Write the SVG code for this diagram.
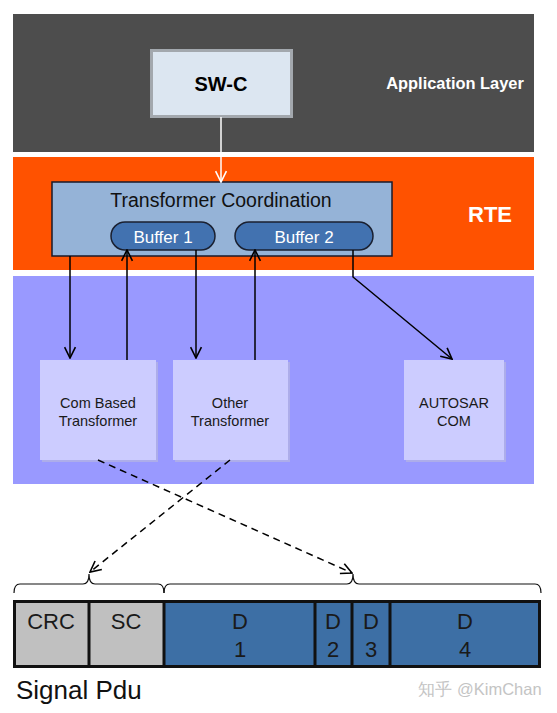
<svg xmlns="http://www.w3.org/2000/svg" width="557" height="713" viewBox="0 0 557 713">
<defs>
<marker id="ah" viewBox="0 0 12 12" refX="11" refY="6" markerWidth="13" markerHeight="13" markerUnits="userSpaceOnUse" orient="auto">
<path d="M1,1 L11,6 L1,11" fill="none" stroke="#000" stroke-width="1.5"/>
</marker>
<marker id="ahw" viewBox="0 0 12 12" refX="11" refY="6" markerWidth="13" markerHeight="13" markerUnits="userSpaceOnUse" orient="auto">
<path d="M1,1 L11,6 L1,11" fill="none" stroke="#fff" stroke-width="1.5"/>
</marker>
</defs>
<style>
text{font-family:"Liberation Sans",Arial,sans-serif;}
.tb{fill:#ccccff;}
.sh{fill:#adadea;}
.tt{font-size:14.5px;fill:#1a1a1a;text-anchor:middle;}
.buf{fill:#4272b0;stroke:#1a2030;stroke-width:1.5;}
.bt{font-size:17px;fill:#fff;text-anchor:middle;}
.conn{stroke:#000;stroke-width:1.5;fill:none;}
.dash{stroke:#000;stroke-width:1.5;fill:none;stroke-dasharray:7 5;}
.g{fill:#c0c0c0;}
.b{fill:#3d6fa5;}
.ct{font-size:22px;fill:#1a1a1a;text-anchor:middle;}
</style>
<rect width="557" height="713" fill="#fff"/>
<g id="layers">
<rect x="13" y="14" width="521" height="138" fill="#4d4d4d"/>
<rect x="13" y="157" width="521" height="113" fill="#ff5200"/>
<rect x="13" y="276" width="521" height="208" fill="#9999ff"/>
<text x="455" y="89" font-size="16.4px" font-weight="bold" fill="#fff" text-anchor="middle">Application Layer</text>
<text x="490" y="222" font-size="22px" font-weight="bold" fill="#fff" text-anchor="middle">RTE</text>
</g>
<g id="swc">
<rect x="151.5" y="50.5" width="140" height="66" fill="#dce6f1" stroke="#a3a8ae" stroke-width="3"/>
<text x="221" y="91" font-size="20px" font-weight="bold" fill="#000" text-anchor="middle">SW-C</text>
</g>
<g id="tc">
<rect x="52" y="182" width="340" height="74" fill="#95b3d7" stroke="#1a1a2a" stroke-width="1.5"/>
<text x="221" y="207" font-size="19.5px" fill="#111" text-anchor="middle">Transformer Coordination</text>
</g>
<g id="buffer1">
<rect class="buf" x="111" y="222" width="104" height="28" rx="14"/>
<text class="bt" x="163" y="243">Buffer 1</text>
</g>
<g id="buffer2">
<rect class="buf" x="235" y="222" width="138" height="28" rx="14"/>
<text class="bt" x="304" y="243">Buffer 2</text>
</g>
<g id="combased">
<rect class="sh" x="42" y="362" width="116" height="100"/>
<rect class="tb" x="40" y="360" width="116" height="100"/>
<text class="tt" x="98" y="408">Com Based</text>
<text class="tt" x="98" y="426">Transformer</text>
</g>
<g id="other">
<rect class="sh" x="175" y="362" width="115" height="100"/>
<rect class="tb" x="173" y="360" width="115" height="100"/>
<text class="tt" x="230" y="408">Other</text>
<text class="tt" x="230" y="426">Transformer</text>
</g>
<g id="autosarcom">
<rect class="sh" x="406" y="362" width="100" height="100"/>
<rect class="tb" x="404" y="360" width="100" height="100"/>
<text class="tt" x="454" y="408">AUTOSAR</text>
<text class="tt" x="454" y="426">COM</text>
</g>
<g id="pdu">
<rect class="g" x="13" y="600" width="76" height="68"/>
<rect class="g" x="89" y="600" width="75" height="68"/>
<rect class="b" x="164" y="600" width="151" height="68"/>
<rect class="b" x="315" y="600" width="37" height="68"/>
<rect class="b" x="352" y="600" width="38" height="68"/>
<rect class="b" x="390" y="600" width="151" height="68"/>
<g stroke="#111" stroke-width="3" fill="none">
<rect x="14.5" y="601.5" width="525" height="65"/>
<path d="M89,601 V667 M164,601 V667 M315,601 V667 M352,601 V667 M390,601 V667"/>
</g>
<text class="ct" x="51" y="629">CRC</text>
<text class="ct" x="126" y="629">SC</text>
<text class="ct" x="240" y="629">D</text>
<text class="ct" x="240" y="657">1</text>
<text class="ct" x="333" y="629">D</text>
<text class="ct" x="333" y="657">2</text>
<text class="ct" x="371" y="629">D</text>
<text class="ct" x="371" y="657">3</text>
<text class="ct" x="465" y="629">D</text>
<text class="ct" x="465" y="657">4</text>
<path d="M14,593 Q14,584 20,584 L83,584 Q89,584 89,574 Q89,584 95,584 L158,584 Q164,584 164,593" fill="none" stroke="#111" stroke-width="1.2"/>
<path d="M164,593 Q164,584 170,584 L347,584 Q353,584 353,574 Q353,584 359,584 L535,584 Q541,584 541,593" fill="none" stroke="#111" stroke-width="1.2"/>
<text x="16" y="699" font-size="26px" fill="#111">Signal Pdu</text>
</g>
<g id="connectors">
<line x1="221" y1="117" x2="221" y2="182" stroke="#fff" stroke-width="1.5" marker-end="url(#ahw)"/>
<line class="conn" x1="70" y1="256" x2="70" y2="358" marker-end="url(#ah)"/>
<line class="conn" x1="127" y1="360" x2="127" y2="250" marker-end="url(#ah)"/>
<line class="conn" x1="196" y1="250" x2="196" y2="358" marker-end="url(#ah)"/>
<line class="conn" x1="255" y1="360" x2="255" y2="250" marker-end="url(#ah)"/>
<polyline class="conn" points="353,250 353,277 452,359" marker-end="url(#ah)"/>
<line class="dash" x1="98" y1="460" x2="352" y2="573" marker-end="url(#ah)"/>
<line class="dash" x1="230" y1="460" x2="90" y2="572" marker-end="url(#ah)"/>
</g>
<text x="480" y="695" font-size="16.5px" fill="#c4c4c4" text-anchor="middle" font-family="'Liberation Sans','Noto Sans CJK SC',sans-serif">知乎 @KimChan</text>
</svg>
